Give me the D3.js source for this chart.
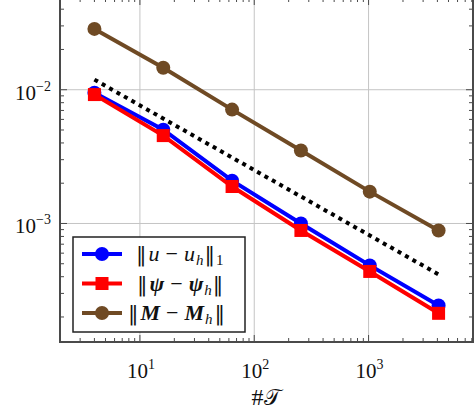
<!DOCTYPE html>
<html>
<head>
<meta charset="utf-8">
<script src="https://cdn.jsdelivr.net/npm/d3@7"></script>
<style>
  body { margin: 0; background: #fff; }
</style>
</head>
<body>
<svg id="chart" width="474" height="414" font-family="'Liberation Serif', 'DejaVu Serif', serif"></svg>
<script>
const elements = [4, 16, 64, 256, 1024, 4096];
const errU = [0.0095, 0.00502, 0.00209, 0.00100, 0.000486, 0.000244];
const errPsi = [0.0092, 0.00454, 0.00189, 0.000887, 0.000438, 0.000213];
const errM = [0.0285, 0.0146, 0.0071, 0.00351, 0.00173, 0.000887];
const refX = [4, 4096];
const refY = [0.0119, 0.000416];
const xTickVals = [10, 100, 1000];
const yTickVals = [0.01, 0.001];

const svg = d3.select("#chart");
const margin = { left: 60, right: 1, top: -2, bottom: 72 };
const width = 474, height = 414;
const frameColor = "#4a4a4a";

const x = d3.scaleLog().domain([2, 8192]).range([margin.left, width - margin.right]);
const y = d3.scaleLog().domain([1.3e-4, 0.0485]).range([height - margin.bottom, margin.top]);

// minor ticks
const xMinor = [], yMinor = [];
for (let e = 0; e <= 3; e++) for (let k = 2; k <= 9; k++) {
    const v = k * Math.pow(10, e);
    if (v > 2 && v < 8192) xMinor.push(v);
}
for (let e = -4; e <= -2; e++) for (let k = 2; k <= 9; k++) {
    const v = k * Math.pow(10, e);
    if (v > 1.3e-4 && v < 0.0485) yMinor.push(v);
}

// grid
const grid = svg.append("g").attr("stroke", "#c4c4c4").attr("stroke-width", 1);
xTickVals.forEach(v => grid.append("line").attr("x1", x(v)).attr("x2", x(v))
    .attr("y1", y.range()[1]).attr("y2", y.range()[0]));
yTickVals.forEach(v => grid.append("line").attr("y1", y(v)).attr("y2", y(v))
    .attr("x1", x.range()[0]).attr("x2", x.range()[1]));

// inward ticks on all four sides
const ticks = svg.append("g").attr("stroke", frameColor).attr("stroke-width", 1);
const x0 = x.range()[0], x1 = x.range()[1], yb = y.range()[0], yt = y.range()[1];
function xt(v, len) {
    ticks.append("line").attr("x1", x(v)).attr("x2", x(v)).attr("y1", yb).attr("y2", yb - len);
    ticks.append("line").attr("x1", x(v)).attr("x2", x(v)).attr("y1", yt).attr("y2", yt + len);
}
function yt_(v, len) {
    ticks.append("line").attr("y1", y(v)).attr("y2", y(v)).attr("x1", x0).attr("x2", x0 + len);
    ticks.append("line").attr("y1", y(v)).attr("y2", y(v)).attr("x1", x1).attr("x2", x1 - len);
}
xMinor.forEach(v => xt(v, 4));
xTickVals.forEach(v => xt(v, 7));
yMinor.forEach(v => yt_(v, 4));
yTickVals.forEach(v => yt_(v, 7));

// tick labels
xTickVals.forEach(v => {
    const e = Math.round(Math.log10(v));
    const t = svg.append("text").attr("x", x(v) + 1).attr("y", 378).attr("text-anchor", "middle")
        .attr("font-size", 21).attr("fill", "#111");
    t.append("tspan").text("10");
    t.append("tspan").attr("font-size", 14).attr("dy", -9).text(e);
});
yTickVals.forEach(v => {
    const e = Math.round(Math.log10(v));
    const t = svg.append("text").attr("x", 51).attr("y", y(v) + 10).attr("text-anchor", "end")
        .attr("font-size", 21).attr("fill", "#111");
    t.append("tspan").text("10");
    t.append("tspan").attr("font-size", 14).attr("dy", -9).text("\u2212" + (-e));
});

// axis label
const xl = svg.append("text").attr("x", 266).attr("y", 405).attr("text-anchor", "middle")
    .attr("font-size", 24).attr("fill", "#111");
xl.append("tspan").text("#");
xl.append("tspan").attr("font-family", "DejaVu Sans, serif").attr("font-size", 22).text("\uD835\uDCAF");

// data lines
const line = d3.line().x(d => x(d[0])).y(d => y(d[1]));
svg.append("clipPath").attr("id", "clip").append("rect")
    .attr("x", x0).attr("y", yt).attr("width", x1 - x0).attr("height", yb - yt);
const plot = svg.append("g").attr("clip-path", "url(#clip)");

plot.append("path").datum(refX.map((v, i) => [v, refY[i]])).attr("d", line)
    .attr("fill", "none").attr("stroke", "#000").attr("stroke-width", 4)
    .attr("stroke-dasharray", "4 4.5");

const series = [
    { vals: errM, color: "#6f4a24", marker: "circle" },
    { vals: errU, color: "#0000ff", marker: "circle" },
    { vals: errPsi, color: "#ff0000", marker: "square" }
];
series.forEach(s => {
    const pts = elements.map((v, i) => [v, s.vals[i]]);
    plot.append("path").datum(pts).attr("d", line).attr("fill", "none")
        .attr("stroke", s.color).attr("stroke-width", 4);
    pts.forEach(p => drawMarker(plot, s.marker, x(p[0]), y(p[1]), s.color));
});

function drawMarker(g, type, cx, cy, color) {
    if (type === "circle") {
        g.append("circle").attr("cx", cx).attr("cy", cy).attr("r", 7).attr("fill", color);
    } else {
        g.append("rect").attr("x", cx - 6.5).attr("y", cy - 6.5).attr("width", 13).attr("height", 13)
            .attr("fill", color);
    }
}

// frame
svg.append("rect").attr("x", x0).attr("y", yt).attr("width", x1 - x0).attr("height", yb - yt)
    .attr("fill", "none").attr("stroke", frameColor).attr("stroke-width", 2);

// legend
const lg = svg.append("g");
lg.append("rect").attr("x", 73).attr("y", 237).attr("width", 172).attr("height", 95)
    .attr("fill", "#fff").attr("stroke", "#222").attr("stroke-width", 1.5);
// parts: [text, style, dx]
const legendItems = [
    { color: "#0000ff", marker: "circle", x: 136, parts: [["\u2016", "bar", 0], ["u", "i", 2], ["\u2212", "", 6], ["u", "i", 6], ["h", "isub", 1], ["\u2016", "bar", 1], ["1", "sub", 1]] },
    { color: "#ff0000", marker: "square", x: 137, parts: [["\u2016", "bar", 0], ["\u03C8", "bi", 2], ["\u2212", "", 6], ["\u03C8", "bi", 6], ["h", "isub", 1], ["\u2016", "bar", 1]] },
    { color: "#6f4a24", marker: "circle", x: 128, parts: [["\u2016", "bar", 0], ["M", "bi", 2], ["\u2212", "", 6], ["M", "bi", 6], ["h", "isub", 1], ["\u2016", "bar", 2]] }
];
legendItems.forEach((it, i) => {
    const cy = 254 + i * 29.5;
    lg.append("line").attr("x1", 82).attr("x2", 122).attr("y1", cy).attr("y2", cy)
        .attr("stroke", it.color).attr("stroke-width", 4);
    drawMarker(lg, it.marker, 102, cy, it.color);
    const t = lg.append("text").attr("x", it.x).attr("y", cy + 7)
        .attr("font-size", 22).attr("fill", "#111");
    let shifted = false;
    it.parts.forEach(([s, st, dx]) => {
        const ts = t.append("tspan").text(s).attr("dx", dx);
        if (st === "bar") ts.attr("font-family", "DejaVu Serif").attr("font-size", 21);
        if (st === "i" || st === "isub") ts.attr("font-style", "italic");
        if (st === "bi") ts.attr("font-style", "italic").attr("font-weight", "bold");
        if (st === "isub" || st === "sub") {
            ts.attr("font-size", 15);
            if (!shifted) { ts.attr("dy", 4); shifted = true; }
        } else if (shifted) { ts.attr("dy", -4); shifted = false; }
    });
});
</script>
</body>
</html>
